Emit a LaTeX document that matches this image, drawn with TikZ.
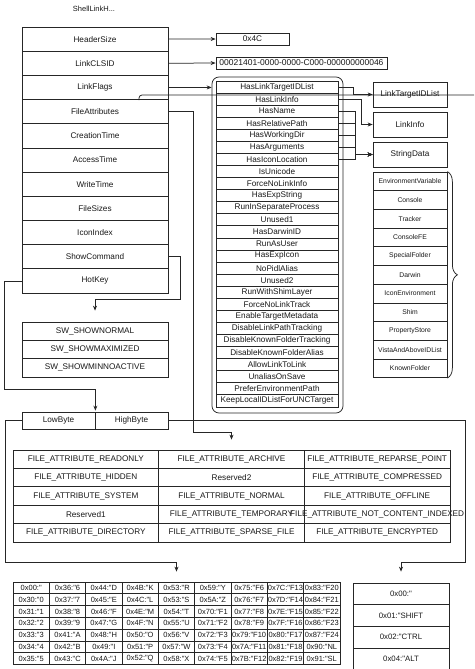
\documentclass[tikz,border=0pt]{standalone}
\usepackage{fontspec}
\setmainfont{Liberation Sans}
\usetikzlibrary{arrows.meta,positioning,calc,decorations.pathreplacing}
\newcommand{\kq}{\textquotedbl}

\begin{document}
\begin{tikzpicture}[x=1pt, y=-1pt,
  >=Stealth,
  line/.style={draw=black!85, line width=0.75pt},
  conn/.style={line, -{Stealth[length=5pt,width=4pt]}},
  cell/.style={line, inner sep=0pt, text=black!90},
  fld/.style={cell, minimum width=146pt, minimum height=24.18pt, font=\fontsize{8.2}{9}\selectfont},
  flagbox/.style={cell, minimum width=122pt, minimum height=12.07pt, font=\fontsize{8.2}{9}\selectfont},
  rbox/.style={cell, minimum width=74pt, minimum height=25pt, font=\fontsize{8.2}{9}\selectfont},
  envbox/.style={cell, minimum width=74pt, minimum height=18.7pt, font=\fontsize{6.8}{8}\selectfont},
  swbox/.style={cell, minimum width=146pt, minimum height=18.3pt, font=\fontsize{8.2}{9}\selectfont},
  bytebox/.style={cell, minimum width=73pt, minimum height=17pt, font=\fontsize{8.2}{9}\selectfont},
  attrbox/.style={cell, minimum width=145.67pt, minimum height=18.4pt, font=\fontsize{8.2}{9}\selectfont},
  keybox/.style={cell, minimum width=36.33pt, minimum height=11.8pt, font=\fontsize{7.5}{8}\selectfont},
  modbox/.style={cell, minimum width=96pt, minimum height=21.7pt, font=\fontsize{7.8}{9}\selectfont},
]
\fill[white] (0,0) rectangle (474,669);
\useasboundingbox (0,0) rectangle (474,669);

% ======================= Header fields =======================
\node[font=\fontsize{7.5}{9}\selectfont, text=black!90] (title) at (94,9) {ShellLinkH...};
\foreach \t [count=\i from 0] in {HeaderSize,LinkCLSID,LinkFlags,FileAttributes,CreationTime,AccessTime,WriteTime,FileSizes,IconIndex,ShowCommand,HotKey}
  \node[fld] (fld-\i) at (95,27+24.18*\i+12.09) {\t};

\node[cell, minimum width=73pt, minimum height=12pt, font=\fontsize{8.2}{9}\selectfont] (hsize) at (252.5,39) {0x4C};
\node[cell, minimum width=171pt, minimum height=12pt, font=\fontsize{8.5}{9}\selectfont] (clsid) at (301.5,63) {00021401-0000-0000-C000-000000000046};

% ======================= LinkFlags =======================
\node[line, rounded corners=7pt, minimum width=131pt, minimum height=336pt, inner sep=0pt] (flaggrp) at (277.5,245) {};
\foreach \t [count=\i from 0] in {HasLinkTargetIDList,HasLinkInfo,HasName,HasRelativePath,HasWorkingDir,HasArguments,HasIconLocation,IsUnicode,ForceNoLinkInfo,HasExpString,RunInSeparateProcess,Unused1,HasDarwinID,RunAsUser,HasExpIcon,NoPidlAlias,Unused2,RunWithShimLayer,ForceNoLinkTrack,EnableTargetMetadata,DisableLinkPathTracking,DisableKnownFolderTracking,DisableKnownFolderAlias,AllowLinkToLink,UnaliasOnSave,PreferEnvironmentPath,KeepLocalIDListForUNCTarget}
  \node[flagbox] (flag-\i) at (277,81+12.07*\i+6.035) {\makebox[0pt]{\t}};

\node[rbox] (ltid) at (410,94.5) {LinkTargetIDList};
\node[rbox] (linfo) at (410,124.5) {LinkInfo};
\node[rbox] (sdata) at (410,154.5) {StringData};

% ======================= ExtraData blocks =======================
\foreach \t [count=\i from 0] in {EnvironmentVariable,Console,Tracker,ConsoleFE,SpecialFolder,Darwin,IconEnvironment,Shim,PropertyStore,VistaAndAboveIDList,KnownFolder}
  \node[envbox] (env-\i) at (410,172+18.7*\i+9.35) {\makebox[0pt]{\t}};
\draw[line, decorate, decoration={brace, amplitude=10pt}] (env-0.north east) -- (env-10.south east);

% ======================= ShowCommand / HotKey =======================
\foreach \t [count=\i from 0] in {SW\_SHOWNORMAL,SW\_SHOWMAXIMIZED,SW\_SHOWMINNOACTIVE}
  \node[swbox] (sw-\i) at (95,322+18.3*\i+9.15) {\t};
\node[bytebox] (lowb) at (58.5,420.5) {LowByte};
\node[bytebox] (highb) at (131.5,420.5) {HighByte};

% ======================= FileAttributes table =======================
\foreach \col [count=\c from 0] in {%
  {FILE\_ATTRIBUTE\_READONLY,FILE\_ATTRIBUTE\_HIDDEN,FILE\_ATTRIBUTE\_SYSTEM,Reserved1,FILE\_ATTRIBUTE\_DIRECTORY},%
  {FILE\_ATTRIBUTE\_ARCHIVE,Reserved2,FILE\_ATTRIBUTE\_NORMAL,FILE\_ATTRIBUTE\_TEMPORARY,FILE\_ATTRIBUTE\_SPARSE\_FILE},%
  {FILE\_ATTRIBUTE\_REPARSE\_POINT,FILE\_ATTRIBUTE\_COMPRESSED,FILE\_ATTRIBUTE\_OFFLINE,FILE\_ATTRIBUTE\_NOT\_CONTENT\_INDEXED,FILE\_ATTRIBUTE\_ENCRYPTED}}
  \foreach \t [count=\r from 0] in \col
    \node[attrbox] (attr-\c-\r) at (13+145.67*\c+72.83,450+18.4*\r+9.2) {\makebox[0pt]{\t}};

% ======================= HotKey tables =======================
\foreach \row [count=\r from 0] in {%
  {0x00:\kq,0x36:\kq 6,0x44:\kq D,0x4B:\kq K,0x53:\kq R,0x59:\kq Y,0x75:\kq F6,0x7C:\kq F13,0x83:\kq F20},%
  {0x30:\kq 0,0x37:\kq 7,0x45:\kq E,0x4C:\kq L,0x53:\kq S,0x5A:\kq Z,0x76:\kq F7,0x7D:\kq F14,0x84:\kq F21},%
  {0x31:\kq 1,0x38:\kq 8,0x46:\kq F,0x4E:\kq M,0x54:\kq T,0x70:\kq F1,0x77:\kq F8,0x7E:\kq F15,0x85:\kq F22},%
  {0x32:\kq 2,0x39:\kq 9,0x47:\kq G,0x4F:\kq N,0x55:\kq U,0x71:\kq F2,0x78:\kq F9,0x7F:\kq F16,0x86:\kq F23},%
  {0x33:\kq 3,0x41:\kq A,0x48:\kq H,0x50:\kq O,0x56:\kq V,0x72:\kq F3,0x79:\kq F10,0x80:\kq F17,0x87:\kq F24},%
  {0x34:\kq 4,0x42:\kq B,0x49:\kq I,0x51:\kq P,0x57:\kq W,0x73:\kq F4,0x7A:\kq F11,0x81:\kq F18,0x90:\kq NL},%
  {0x35:\kq 5,0x43:\kq C,0x4A:\kq J,0x52:\kq Q,0x58:\kq X,0x74:\kq F5,0x7B:\kq F12,0x82:\kq F19,0x91:\kq SL}}
  \foreach \k [count=\c from 0] in \row
    \node[keybox] (key-\c-\r) at (13+36.33*\c+18.17,582+11.8*\r+5.9) {\makebox[0pt]{\k}};

\foreach \t [count=\i from 0] in {0x00:\kq,0x01:\kq SHIFT,0x02:\kq CTRL,0x04:\kq ALT}
  \node[modbox] (mod-\i) at (401,583+21.7*\i+10.85) {\t};

% ======================= Connectors =======================
\draw[conn] (fld-0.east) -- (hsize.west);
\draw[conn] (fld-1.east) -- (clsid.west);
\draw[conn] (fld-2.east) -- (fld-2.east -| flaggrp.west);
\draw[conn] (flag-0.east) -- ++(15,0) |- (ltid.west);
\draw[conn] (flag-1.east) -- ++(23,0) |- (linfo.west);
\foreach \i in {2,...,6}
  \draw[conn] (flag-\i.east) -- ++(17,0) |- (sdata.west);

\coordinate (strayA) at (139,100);
\coordinate (strayB) at (474,95);
\draw[line, rounded corners=3pt] (strayA) |- (strayB);

\coordinate (fabend) at (193,432);
\draw[conn, shorten >=10pt] (fld-3.east) -| (fabend) -| (attr-1-0.north);
\coordinate (scbend) at (180,299);
\draw[conn, shorten >=11pt] (fld-9.east) -| (scbend) -| (sw-0.north);
\coordinate (hkbend) at (4,389);
\draw[conn, shorten >=1pt] (fld-10.west) -| (hkbend) -| (lowb.north east);
\coordinate (lbbend) at (5,562);
\draw[conn, shorten >=10pt] (lowb.west) -| (lbbend) -| (key-4-0.north);
\coordinate (hbbend) at (465,562);
\draw[conn, shorten >=11pt] (highb.east) -| (hbbend) -| (mod-0.north);

\end{tikzpicture}
\end{document}
